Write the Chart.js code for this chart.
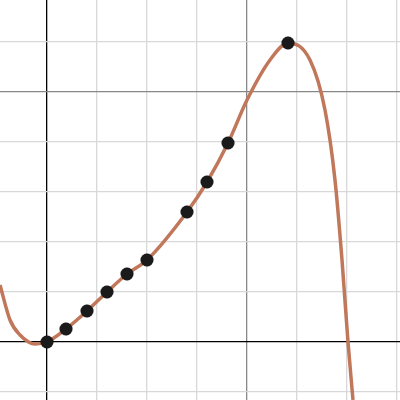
<!DOCTYPE html>
<html>
<head>
<script src="https://cdn.jsdelivr.net/npm/chart.js@4"></script>
<style>
  html, body { margin: 0; padding: 0; background: #fff; }
  #wrap { width: 400px; height: 400px; }
</style>
</head>
<body>
<div id="wrap"><canvas id="chart"></canvas></div>
<script>
// points (grid units)
const pointX = [0, 0.38, 0.8, 1.2, 1.6, 2.0, 2.8, 3.2, 3.62, 4.82];
const pointY = [0, 0.26, 0.62, 1.0, 1.36, 1.64, 2.6, 3.2, 3.98, 5.98];

// curve samples
const curveX = [-0.94, -0.74, -0.54, -0.24, 0, 0.38, 0.8, 1.2, 1.6, 2.0, 2.8, 3.2, 3.62, 4.0, 4.46, 4.82, 5.26, 5.56, 5.76, 5.9, 6.02, 6.12];
const curveY = [1.14, 0.44, 0.14, -0.04, 0, 0.26, 0.62, 1.0, 1.36, 1.64, 2.6, 3.2, 3.98, 4.84, 5.64, 5.98, 5.64, 4.64, 3.24, 1.64, 0, -1.16];

const gridX = [0, 1, 2, 3, 4, 5, 6, 7];
const gridY = [-1, 0, 1, 2, 3, 4, 5, 6];

const toXY = (xs, ys) => xs.map((x, i) => ({ x: x, y: ys[i] }));

function gridColor(major) {
  return (ctx) => {
    const v = ctx.tick && ctx.tick.value;
    if (v === 0) return "#000";
    if (v === major) return "#888";
    return "#d8d8d8";
  };
}

function axis(min, max, ticks, major) {
  return {
    type: "linear", min: min, max: max,
    afterBuildTicks: (s) => { s.ticks = ticks.map(v => ({ value: v })); },
    afterFit: (s) => { s.width = s.isHorizontal() ? s.width : 0; if (s.isHorizontal()) s.height = 0; },
    ticks: { display: false, padding: 0 },
    border: { display: false },
    grid: { color: gridColor(major), lineWidth: 1.3, drawTicks: false }
  };
}

new Chart(document.getElementById("chart"), {
  type: "scatter",
  data: {
    datasets: [
      {
        data: toXY(pointX, pointY),
        backgroundColor: "#1a1a1a",
        pointRadius: 6.5,
        pointHoverRadius: 6.5,
        order: 0
      },
      {
        data: toXY(curveX, curveY),
        showLine: true,
        borderColor: "#c0775a",
        borderWidth: 3.5,
        pointRadius: 0,
        tension: 0.4,
        cubicInterpolationMode: "monotone",
        order: 1
      }
    ]
  },
  options: {
    responsive: true,
    maintainAspectRatio: false,
    animation: false,
    layout: { padding: 0, autoPadding: false },
    plugins: { legend: { display: false }, tooltip: { enabled: false } },
    scales: {
      x: axis(-0.94, 7.06, gridX, 4),
      y: axis(-1.16, 6.84, gridY, 5)
    }
  }
});
</script>
</body>
</html>
